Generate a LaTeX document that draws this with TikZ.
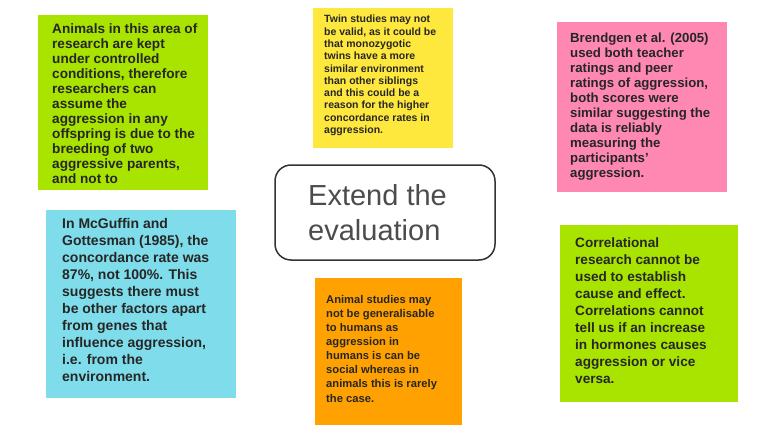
\documentclass[tikz,border=0pt]{standalone}
\usepackage{fontspec}
\setmainfont{Liberation Sans}
\begin{document}
\begin{tikzpicture}[x=1pt,y=-1pt,
  note/.style={anchor=north west,inner sep=0pt,align=left,font=\bfseries,text=black!85}]
\useasboundingbox (0,0) rectangle (768,433);
\fill[white] (0,0) rectangle (768,433);
\definecolor{lime}{HTML}{A8E400}
\definecolor{yel}{HTML}{FFE83D}
\definecolor{pnk}{HTML}{FF88B2}
\definecolor{cyn}{HTML}{7FDDEB}
\definecolor{org}{HTML}{FFA100}
\fill[lime] (38,15) rectangle (208,190);
\fill[yel] (313,8) rectangle (453,148);
\fill[pnk] (557,22) rectangle (727,192);
\fill[cyn] (46,210) rectangle (236,398);
\fill[org] (315,278) rectangle (462,425);
\fill[lime] (560,225) rectangle (738,402);
\node[note,font=\bfseries\fontsize{13.6}{15}\selectfont] (a) at (52,23) {Animals in this area of\\research are kept\\under controlled\\conditions, therefore\\researchers can\\assume the\\aggression in any\\offspring is due to the\\breeding of two\\aggressive parents,\\and not to};
\node[note,font=\bfseries\fontsize{10.5}{12.3}\selectfont] (b) at (324,15) {Twin studies may not\\be valid, as it could be\\that monozygotic\\twins have a more\\similar environment\\than other siblings\\and this could be a\\reason for the higher\\concordance rates in\\aggression.};
\node[note,font=\bfseries\fontsize{13.2}{15}\selectfont] (c) at (570,33) {Brendgen et al. (2005)\\used both teacher\\ratings and peer\\ratings of aggression,\\both scores were\\similar suggesting the\\data is reliably\\measuring the\\participants'\\aggression.};
\node[note,font=\bfseries\fontsize{14}{17}\selectfont] (d) at (62,218) {In McGuffin and\\Gottesman (1985), the\\concordance rate was\\87\%, not 100\%. This\\suggests there must\\be other factors apart\\from genes that\\influence aggression,\\i.e. from the\\environment.};
\node[note,font=\bfseries\fontsize{11.2}{14.1}\selectfont] (e) at (326,295) {Animal studies may\\not be generalisable\\to humans as\\aggression in\\humans is can be\\social whereas in\\animals this is rarely\\the case.};
\node[note,font=\bfseries\fontsize{13.6}{17.1}\selectfont] (f) at (575,237) {Correlational\\research cannot be\\used to establish\\cause and effect.\\Correlations cannot\\tell us if an increase\\in hormones causes\\aggression or vice\\versa.};
\node[draw=black!80,line width=1.5pt,rounded corners=16pt,minimum width=220pt,minimum height=95pt] (ctr) at (385,212.5) {};
\node[anchor=west,inner sep=0pt,align=left,text=black!70,font=\fontsize{29}{35}\selectfont] (ct) at (308,212.5) {Extend the\\evaluation};
\end{tikzpicture}
\end{document}
